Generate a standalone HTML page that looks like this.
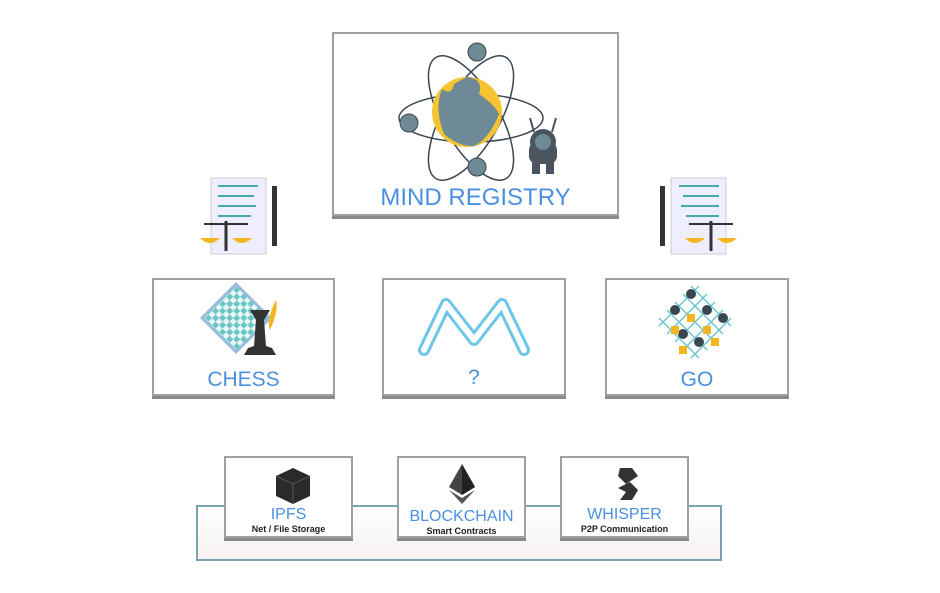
<!DOCTYPE html>
<html><head><style>
body{margin:0;width:940px;height:593px;background:#fff;position:relative;font-family:"Liberation Sans",sans-serif;overflow:hidden}
.b{position:absolute;background:#fff;border:2px solid #a0a0a0;box-shadow:0 3px 0 #8a8a8a;box-sizing:border-box}
.t{position:absolute;left:0;right:0;text-align:center;color:#4a90e2}
.s{position:absolute;left:0;right:0;text-align:center;color:#222;font-size:9px;font-weight:bold}
</style></head><body>
<div style="position:absolute;left:196px;top:505px;width:526px;height:56px;border:2px solid #7aa3b0;box-sizing:border-box;background:linear-gradient(#fff,#f6f2f0)"></div>

<div class="b" style="left:332px;top:32px;width:287px;height:184px">
<svg width="283" height="180" style="position:absolute;left:0;top:0">
<ellipse cx="137" cy="84" rx="72" ry="24" fill="none" stroke="#3a4650" stroke-width="1.5"/>
<ellipse cx="137" cy="84" rx="28" ry="70" transform="rotate(-30 137 84)" fill="none" stroke="#3a4650" stroke-width="1.5"/>
<ellipse cx="137" cy="84" rx="28" ry="70" transform="rotate(30 137 84)" fill="none" stroke="#3a4650" stroke-width="1.5"/>
<circle cx="133" cy="78" r="35" fill="#f6c431"/>
<path d="M133 43 Q150 45 145 60 Q160 70 165 80 Q155 105 140 112 Q125 113 110 100 Q100 75 108 55 Q118 62 120 50Z" fill="#6e8a96"/>
<circle cx="143" cy="18" r="9" fill="#6e8a96" stroke="#3a4650"/>
<circle cx="75" cy="89" r="9" fill="#6e8a96" stroke="#3a4650"/>
<circle cx="143" cy="133" r="9" fill="#6e8a96" stroke="#3a4650"/>
<rect x="195" y="108" width="28" height="22" rx="8" fill="#4a5560"/>
<circle cx="209" cy="108" r="13" fill="#4a5560"/><circle cx="209" cy="108" r="8" fill="#6e8a96"/>
<rect x="198" y="128" width="8" height="12" fill="#4a5560"/><rect x="212" y="128" width="8" height="12" fill="#4a5560"/>
<line x1="200" y1="98" x2="196" y2="84" stroke="#4a5560" stroke-width="2"/><line x1="218" y1="98" x2="222" y2="84" stroke="#4a5560" stroke-width="2"/>
</svg>
<div class="t" style="top:150px;font-size:24px">MIND REGISTRY</div></div>

<svg width="90" height="82" style="position:absolute;left:196px;top:176px">
<rect x="15" y="2" width="55" height="76" fill="#eef" stroke="#ccc"/>
<g stroke="#4aa" stroke-width="2"><line x1="22" y1="10" x2="62" y2="10"/><line x1="22" y1="20" x2="58" y2="20"/><line x1="22" y1="30" x2="60" y2="30"/><line x1="22" y1="40" x2="55" y2="40"/></g>
<line x1="30" y1="45" x2="30" y2="75" stroke="#333" stroke-width="3"/><line x1="8" y1="48" x2="52" y2="48" stroke="#333" stroke-width="2"/>
<path d="M4 62 Q14 72 24 62Z M36 62 Q46 72 56 62Z" fill="#f2b720"/>
<rect x="76" y="10" width="5" height="60" fill="#333"/>
</svg>
<svg width="90" height="82" style="position:absolute;left:651px;top:176px;transform:scaleX(-1)">
<rect x="15" y="2" width="55" height="76" fill="#eef" stroke="#ccc"/>
<g stroke="#4aa" stroke-width="2"><line x1="22" y1="10" x2="62" y2="10"/><line x1="22" y1="20" x2="58" y2="20"/><line x1="22" y1="30" x2="60" y2="30"/><line x1="22" y1="40" x2="55" y2="40"/></g>
<line x1="30" y1="45" x2="30" y2="75" stroke="#333" stroke-width="3"/><line x1="8" y1="48" x2="52" y2="48" stroke="#333" stroke-width="2"/>
<path d="M4 62 Q14 72 24 62Z M36 62 Q46 72 56 62Z" fill="#f2b720"/>
<rect x="76" y="10" width="5" height="60" fill="#333"/>
</svg>

<div class="b" style="left:152px;top:278px;width:183px;height:118px">
<svg width="180" height="90" style="position:absolute;left:0;top:0">
<defs><pattern id="ck" width="10" height="10" patternUnits="userSpaceOnUse"><rect width="10" height="10" fill="#6cc6c6"/><rect width="5" height="5" fill="#e8f6f6"/><rect x="5" y="5" width="5" height="5" fill="#e8f6f6"/></pattern></defs>
<rect x="58" y="14" width="48" height="48" transform="rotate(45 82 38)" fill="url(#ck)" stroke="#9bd" stroke-width="3"/>
<path d="M90 75 L122 75 L118 68 L112 66 L110 40 L116 30 L96 30 L102 40 L100 66 L94 68Z" fill="#333"/>
<path d="M116 50 Q125 30 122 20 Q112 40 116 50Z" fill="#f2b720"/>
</svg>
<div class="t" style="top:88px;font-size:21px">CHESS</div></div>

<div class="b" style="left:382px;top:278px;width:184px;height:118px">
<svg width="180" height="90" style="position:absolute;left:0;top:0">
<path d="M40 70 L62 24 L90 60 L118 24 L140 70" fill="none" stroke="#6cc6e8" stroke-width="12" stroke-linejoin="round" stroke-linecap="round"/>
<path d="M40 70 L62 24 L90 60 L118 24 L140 70" fill="none" stroke="#fff" stroke-width="6" stroke-linejoin="round" stroke-linecap="round"/>
</svg>
<div class="t" style="top:86px;font-size:21px">?</div></div>

<div class="b" style="left:605px;top:278px;width:184px;height:118px">
<svg width="180" height="90" style="position:absolute;left:0;top:0">
<g stroke="#6cc6d0" stroke-width="1.5">
<line x1="52" y1="46" x2="92" y2="6"/><line x1="60" y1="54" x2="100" y2="14"/><line x1="68" y1="62" x2="108" y2="22"/><line x1="76" y1="70" x2="116" y2="30"/><line x1="84" y1="78" x2="124" y2="38"/>
<line x1="52" y1="38" x2="92" y2="78"/><line x1="60" y1="30" x2="100" y2="70"/><line x1="68" y1="22" x2="108" y2="62"/><line x1="76" y1="14" x2="116" y2="54"/><line x1="84" y1="6" x2="124" y2="46"/></g>
<g fill="#3a4650"><circle cx="84" cy="14" r="5"/><circle cx="68" cy="30" r="5"/><circle cx="100" cy="30" r="5"/><circle cx="76" cy="54" r="5"/><circle cx="92" cy="62" r="5"/><circle cx="116" cy="38" r="5"/></g>
<g fill="#f2b720"><rect x="80" y="34" width="8" height="8"/><rect x="64" y="46" width="8" height="8"/><rect x="96" y="46" width="8" height="8"/><rect x="104" y="58" width="8" height="8"/><rect x="72" y="66" width="8" height="8"/></g>
</svg>
<div class="t" style="top:88px;font-size:21px">GO</div></div>

<div class="b" style="left:224px;top:456px;width:129px;height:82px">
<svg width="125" height="50" style="position:absolute;left:0;top:0"><path d="M67 10 L84 18 L84 38 L67 46 L50 38 L50 18Z" fill="#2a2a2a"/><path d="M50 18 L67 26 L84 18 M67 26 L67 46" stroke="#555" fill="none"/></svg>
<div class="t" style="top:48px;font-size:16px">IPFS</div><div class="s" style="top:66px">Net / File Storage</div></div>
<div class="b" style="left:397px;top:456px;width:129px;height:82px">
<svg width="125" height="50" style="position:absolute;left:0;top:0"><path d="M63 6 L50 29 L63 37 L76 29Z" fill="#444"/><path d="M63 6 L63 37 L76 29Z" fill="#222"/><path d="M50 32 L63 46 L76 32 L63 40Z" fill="#555"/></svg>
<div class="t" style="top:50px;font-size:16px">BLOCKCHAIN</div><div class="s" style="top:68px">Smart Contracts</div></div>
<div class="b" style="left:560px;top:456px;width:129px;height:82px">
<svg width="125" height="50" style="position:absolute;left:0;top:0"><path d="M58 10 L70 10 L76 18 L64 26 L56 18Z" fill="#333"/><path d="M56 30 L68 24 L76 32 L70 42 L58 42 L64 34Z" fill="#333"/></svg>
<div class="t" style="top:48px;font-size:16px">WHISPER</div><div class="s" style="top:66px">P2P Communication</div></div>
</body></html>
